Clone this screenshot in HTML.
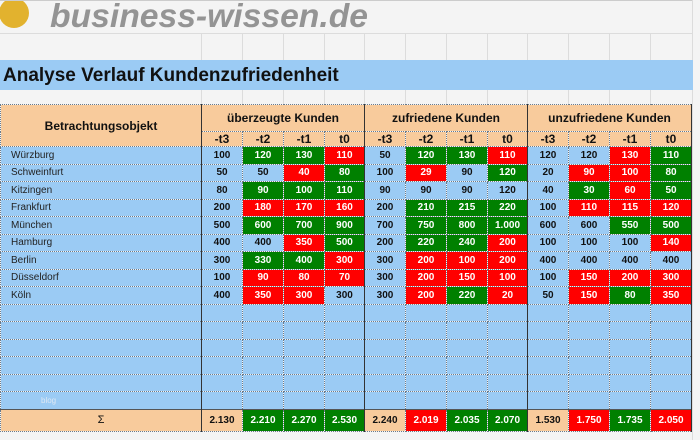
<!DOCTYPE html>
<html><head><meta charset="utf-8"><style>
body{margin:0;width:700px;height:440px;overflow:hidden;background:#f4f4f4;font-family:"Liberation Sans",Arial,sans-serif;position:relative}
.vl{position:absolute;top:0;width:1px;height:104px;background:#dcdcdc}
.hl{position:absolute;left:0;width:693px;height:1px;background:#dcdcdc}
#title{position:absolute;left:0;top:60px;width:693px;height:30px;background:#9bcbf4;font-weight:bold;font-size:19px;line-height:31px;padding-left:3px;box-sizing:border-box;color:#111}
table{position:absolute;left:0;top:104px;border-collapse:collapse;table-layout:fixed;font-size:10px}
td{padding:0;text-align:center;font-weight:bold;color:#111;border:1px dotted #6a7a8a;background:#9bcbf4;overflow:hidden;white-space:nowrap}
tr.d td{height:16.5px}
.o{background:#f8cb9c}
.s td{font-size:12px}
.g{background:#008000;color:#fff}
.r{background:#ff0000;color:#fff}
td.n{text-align:left;font-weight:normal;padding-left:10px;color:#222}
.L{border-left:1px solid #333}
.R{border-right:1px solid #333}
</style></head><body>
<svg style="position:absolute;left:0;top:0" width="700" height="40">
<circle cx="14" cy="13" r="15" fill="#e2b22e"/>
<text x="50" y="27" font-family="Liberation Sans" font-style="italic" font-weight="bold" font-size="33" fill="#949494" textLength="318" lengthAdjust="spacingAndGlyphs">business-wissen.de</text>
</svg>
<div class="hl" style="top:33px"></div>
<div class="hl" style="top:0;background:#ccc"></div>
<div class="vl" style="left:201px;top:33px;height:71px"></div><div class="vl" style="left:242px;top:33px;height:71px"></div><div class="vl" style="left:283px;top:33px;height:71px"></div><div class="vl" style="left:324px;top:33px;height:71px"></div><div class="vl" style="left:364px;top:33px;height:71px"></div><div class="vl" style="left:405px;top:33px;height:71px"></div><div class="vl" style="left:446px;top:33px;height:71px"></div><div class="vl" style="left:487px;top:33px;height:71px"></div><div class="vl" style="left:527px;top:33px;height:71px"></div><div class="vl" style="left:568px;top:33px;height:71px"></div><div class="vl" style="left:609px;top:33px;height:71px"></div><div class="vl" style="left:650px;top:33px;height:71px"></div><div class="vl" style="left:692px;top:0;height:440px"></div>
<div id="title">Analyse Verlauf Kundenzufriedenheit</div>
<table>
<colgroup><col style="width:201px"><col style="width:41px"><col style="width:41px"><col style="width:41px"><col style="width:40px"><col style="width:41px"><col style="width:41px"><col style="width:41px"><col style="width:40px"><col style="width:41px"><col style="width:41px"><col style="width:41px"><col style="width:41px"></colgroup>
<tr style="height:27px"><td class="o R" rowspan="2" style="font-size:12px">Betrachtungsobjekt</td><td class="o L R" colspan="4" style="font-size:12px">überzeugte Kunden</td><td class="o L R" colspan="4" style="font-size:12px">zufriedene Kunden</td><td class="o L R" colspan="4" style="font-size:12px">unzufriedene Kunden</td></tr>
<tr style="height:15px" class="s"><td class="o L">-t3</td><td class="o">-t2</td><td class="o">-t1</td><td class="o R">t0</td><td class="o L">-t3</td><td class="o">-t2</td><td class="o">-t1</td><td class="o R">t0</td><td class="o L">-t3</td><td class="o">-t2</td><td class="o">-t1</td><td class="o R">t0</td></tr>
<tr class="d"><td class="n R">Würzburg</td><td class="L">100</td><td class="g">120</td><td class="g">130</td><td class="r R">110</td><td class="L">50</td><td class="g">120</td><td class="g">130</td><td class="r R">110</td><td class="L">120</td><td>120</td><td class="r">130</td><td class="g R">110</td></tr>
<tr class="d"><td class="n R">Schweinfurt</td><td class="L">50</td><td>50</td><td class="r">40</td><td class="g R">80</td><td class="L">100</td><td class="r">29</td><td>90</td><td class="g R">120</td><td class="L">20</td><td class="r">90</td><td class="r">100</td><td class="g R">80</td></tr>
<tr class="d"><td class="n R">Kitzingen</td><td class="L">80</td><td class="g">90</td><td class="g">100</td><td class="g R">110</td><td class="L">90</td><td>90</td><td>90</td><td class="R">120</td><td class="L">40</td><td class="g">30</td><td class="r">60</td><td class="g R">50</td></tr>
<tr class="d"><td class="n R">Frankfurt</td><td class="L">200</td><td class="r">180</td><td class="r">170</td><td class="r R">160</td><td class="L">200</td><td class="g">210</td><td class="g">215</td><td class="g R">220</td><td class="L">100</td><td class="r">110</td><td class="r">115</td><td class="r R">120</td></tr>
<tr class="d"><td class="n R">München</td><td class="L">500</td><td class="g">600</td><td class="g">700</td><td class="g R">900</td><td class="L">700</td><td class="g">750</td><td class="g">800</td><td class="g R">1.000</td><td class="L">600</td><td>600</td><td class="g">550</td><td class="g R">500</td></tr>
<tr class="d"><td class="n R">Hamburg</td><td class="L">400</td><td>400</td><td class="r">350</td><td class="g R">500</td><td class="L">200</td><td class="g">220</td><td class="g">240</td><td class="r R">200</td><td class="L">100</td><td>100</td><td>100</td><td class="r R">140</td></tr>
<tr class="d"><td class="n R">Berlin</td><td class="L">300</td><td class="g">330</td><td class="g">400</td><td class="r R">300</td><td class="L">300</td><td class="r">200</td><td class="r">100</td><td class="r R">200</td><td class="L">400</td><td>400</td><td>400</td><td class="R">400</td></tr>
<tr class="d"><td class="n R">Düsseldorf</td><td class="L">100</td><td class="r">90</td><td class="r">80</td><td class="r R">70</td><td class="L">300</td><td class="r">200</td><td class="r">150</td><td class="r R">100</td><td class="L">100</td><td class="r">150</td><td class="r">200</td><td class="r R">300</td></tr>
<tr class="d"><td class="n R">Köln</td><td class="L">400</td><td class="r">350</td><td class="r">300</td><td class="R">300</td><td class="L">300</td><td class="r">200</td><td class="g">220</td><td class="r R">20</td><td class="L">50</td><td class="r">150</td><td class="g">80</td><td class="r R">350</td></tr>
<tr class="d"><td class="n R"></td><td class="L"></td><td></td><td></td><td class="R"></td><td class="L"></td><td></td><td></td><td class="R"></td><td class="L"></td><td></td><td></td><td class="R"></td></tr>
<tr class="d"><td class="n R"></td><td class="L"></td><td></td><td></td><td class="R"></td><td class="L"></td><td></td><td></td><td class="R"></td><td class="L"></td><td></td><td></td><td class="R"></td></tr>
<tr class="d"><td class="n R"></td><td class="L"></td><td></td><td></td><td class="R"></td><td class="L"></td><td></td><td></td><td class="R"></td><td class="L"></td><td></td><td></td><td class="R"></td></tr>
<tr class="d"><td class="n R"></td><td class="L"></td><td></td><td></td><td class="R"></td><td class="L"></td><td></td><td></td><td class="R"></td><td class="L"></td><td></td><td></td><td class="R"></td></tr>
<tr class="d"><td class="n R"></td><td class="L"></td><td></td><td></td><td class="R"></td><td class="L"></td><td></td><td></td><td class="R"></td><td class="L"></td><td></td><td></td><td class="R"></td></tr>
<tr class="d"><td class="n R" style="padding-left:40px;color:#dde8f4;font-size:8px">blog</td><td class="L"></td><td></td><td></td><td class="R"></td><td class="L"></td><td></td><td></td><td class="R"></td><td class="L"></td><td></td><td></td><td class="R"></td></tr>
<tr style="height:22px"><td class="o R" style="font-weight:normal;font-size:11px;border-top:1px solid #555">Σ</td><td class="o L" style="border-top:1px solid #555">2.130</td><td class="g" style="border-top:1px solid #555">2.210</td><td class="g" style="border-top:1px solid #555">2.270</td><td class="g R" style="border-top:1px solid #555">2.530</td><td class="o L" style="border-top:1px solid #555">2.240</td><td class="r" style="border-top:1px solid #555">2.019</td><td class="g" style="border-top:1px solid #555">2.035</td><td class="g R" style="border-top:1px solid #555">2.070</td><td class="o L" style="border-top:1px solid #555">1.530</td><td class="r" style="border-top:1px solid #555">1.750</td><td class="g" style="border-top:1px solid #555">1.735</td><td class="r R" style="border-top:1px solid #555">2.050</td></tr>
</table>
</body></html>
